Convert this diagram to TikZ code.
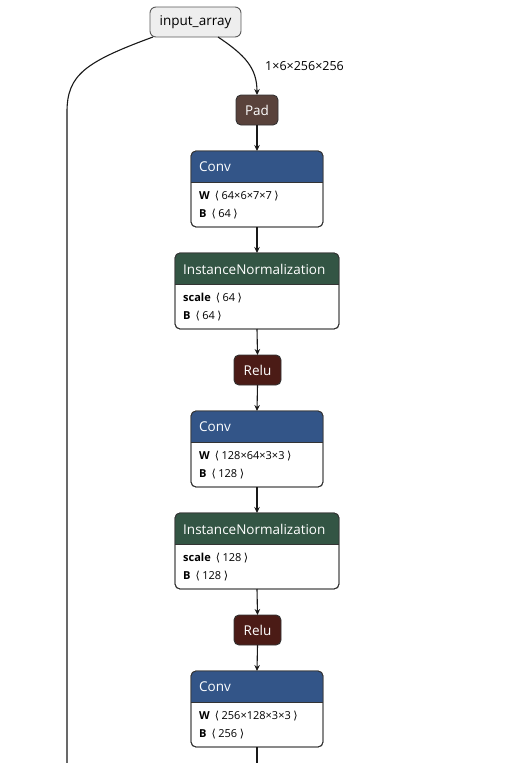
\documentclass[tikz,border=0pt]{standalone}
\usepackage{fontspec}
\setmainfont{Open Sans}
\newfontfamily\symf{DejaVu Sans}
\usetikzlibrary{arrows.meta}
\definecolor{convc}{HTML}{335588}
\definecolor{normc}{HTML}{335544}
\definecolor{reluc}{HTML}{4B1B16}
\definecolor{padc}{HTML}{59423B}
\definecolor{inpc}{HTML}{EEEEEE}
\definecolor{linec}{HTML}{333333}
\newcommand\lbr{\hspace{5pt}{\symf⟨}\hspace{2.5pt}}
\newcommand\rbr{\hspace{2.5pt}{\symf⟩}}
\tikzset{
 op/.style={draw=linec, rounded corners=5pt, minimum height=30pt, text=white, font=\fontsize{13.5}{15}\selectfont, inner xsep=2pt, line width=0.9pt, outer sep=0pt},
 inp/.style={draw=black!65, fill=inpc, rounded corners=6pt, minimum height=30pt, minimum width=91pt, font=\fontsize{13.5}{15}\selectfont, line width=0.9pt, outer sep=0pt},
 card/.style={draw=linec, rounded corners=5pt, line width=0.9pt, outer sep=0pt, inner sep=0pt},
 conn/.style={draw=black!90, line width=1.1pt, -{Stealth[length=6pt,width=5.5pt]}},
 wire/.style={draw=black!90, line width=1.1pt},
 ttl/.style={anchor=west, text=white, font=\fontsize{13.5}{15}\selectfont, inner sep=0pt},
 row/.style={anchor=west, font=\fontsize{11}{13}\selectfont, inner sep=0pt},
 elabel/.style={anchor=west, font=\fontsize{12.5}{14}\selectfont, inner sep=0pt},
}
\newcommand\mkcard[9]{%
 \node[card, minimum width=#3pt, minimum height=76pt, anchor=north] (#1) at (257,#2) {};
 \begin{scope}
  \clip[rounded corners=5pt] (#1.north west) rectangle (#1.south east);
  \fill[#4] (#1.north west) rectangle ([yshift=-31pt]#1.north east);
 \end{scope}
 \draw[card] (#1.north west) rectangle (#1.south east);
 \draw[linec, line width=0.6pt] ([yshift=-31pt]#1.north west) -- ([yshift=-31pt]#1.north east);
 \node[ttl] (#1t) at ([xshift=8pt,yshift=-16pt]#1.north west) {#5};
 \node[row] (#1a) at ([xshift=8pt,yshift=-45pt]#1.north west) {\textbf{#6}\lbr#7\rbr};
 \node[row] (#1b) at ([xshift=8pt,yshift=-63pt]#1.north west) {\textbf{#8}\lbr#9\rbr};
}
\begin{document}
\begin{tikzpicture}[x=1pt,y=-1pt]
\useasboundingbox (0,0) rectangle (504,763);
\node[inp] (in) at (195.5,22) {input\_array};
\node[op, fill=padc, minimum width=42pt] (pad) at (257,110) {Pad};
\mkcard{c1}{151}{132}{convc}{Conv}{W}{64×6×7×7}{B}{64}
\mkcard{n1}{253}{164}{normc}{InstanceNormalization}{scale}{64}{B}{64}
\node[op, fill=reluc, minimum width=47pt] (r1) at (257.5,370) {Relu};
\mkcard{c2}{411}{132}{convc}{Conv}{W}{128×64×3×3}{B}{128}
\mkcard{n2}{513}{164}{normc}{InstanceNormalization}{scale}{128}{B}{128}
\node[op, fill=reluc, minimum width=47pt] (r2) at (257.5,630) {Relu};
\mkcard{c3}{671}{132}{convc}{Conv}{W}{256×128×3×3}{B}{256}
\coordinate (lbot) at (67,763);
\coordinate (cbot) at (257,763);
\draw[conn] ([xshift=22.5pt]in.south) .. controls (245,55) and (257,68) .. (pad.north);
\node[elabel] (shp) at (265,66) {1×6×256×256};
\draw[wire] ([xshift=3pt]in.south west) .. controls (85,62) and (67,75) .. (67,112) -- (lbot);
\draw[conn] (pad.south) -- (c1.north);
\draw[conn] (c1.south) -- (n1.north);
\draw[conn] (n1.south) -- (r1.north);
\draw[conn] (r1.south) -- (c2.north);
\draw[conn] (c2.south) -- (n2.north);
\draw[conn] (n2.south) -- (r2.north);
\draw[conn] (r2.south) -- (c3.north);
\draw[wire] (c3.south) -- (cbot);
\end{tikzpicture}
\end{document}
